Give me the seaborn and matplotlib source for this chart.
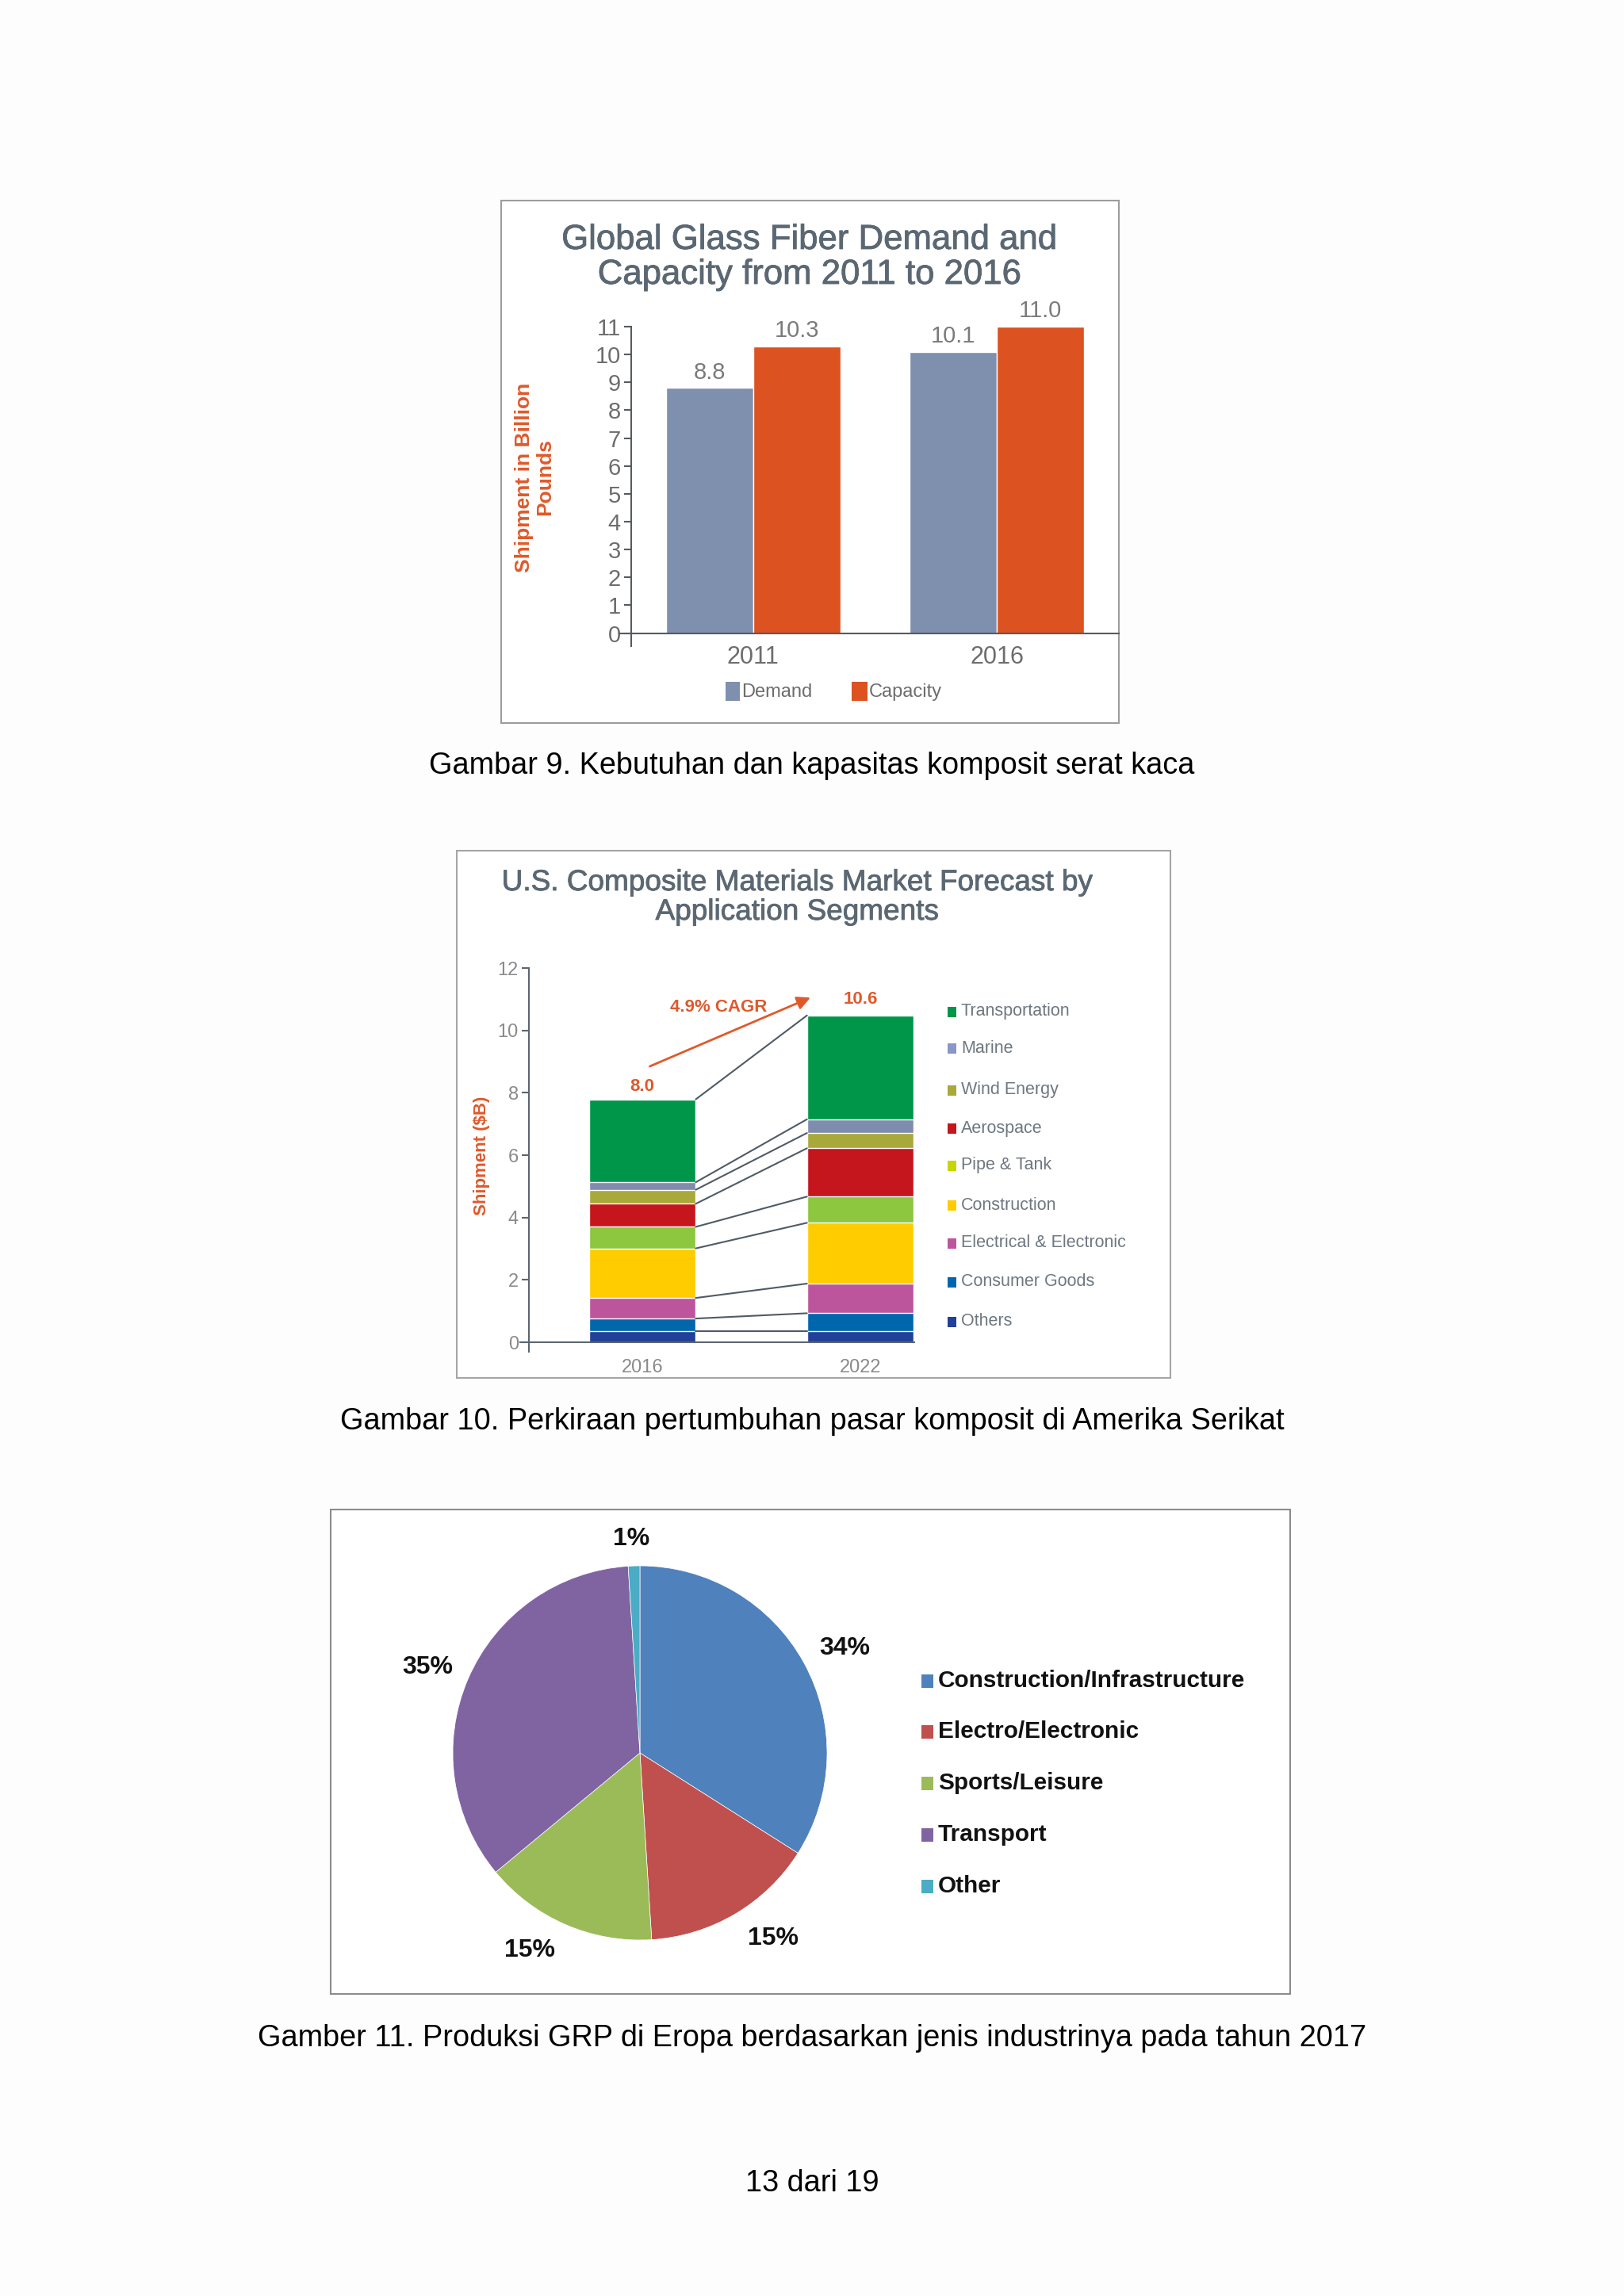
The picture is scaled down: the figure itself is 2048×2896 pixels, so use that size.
import numpy as np
import pandas as pd
import seaborn as sns
import matplotlib.pyplot as plt
import matplotlib.patheffects as pe
from matplotlib.patches import Rectangle

# Data grafiek 1 (glasvezel vraag en capaciteit)
jaren_glas = ['2011', '2016']
demand = [8.8, 10.1]
capacity = [10.3, 11.0]

# Data grafiek 2 (segmenten van onder naar boven, in $B)
jaren_us = ['2016', '2022']
segmenten = ['Others', 'Consumer Goods', 'Electrical & Electronic', 'Construction',
             'Pipe & Tank', 'Aerospace', 'Wind Energy', 'Marine', 'Transportation']
waarden_2016 = [0.35, 0.41, 0.66, 1.59, 0.69, 0.74, 0.45, 0.24, 2.66]
waarden_2022 = [0.35, 0.58, 0.95, 1.95, 0.84, 1.55, 0.49, 0.44, 3.33]
totaal_labels = ['8.0', '10.6']

# Data grafiek 3 (GRP Europa 2017, procent)
sectoren = ['Construction/Infrastructure', 'Electro/Electronic', 'Sports/Leisure', 'Transport', 'Other']
aandeel = [34, 15, 15, 35, 1]

# Kleuren
kleuren2 = ['#22409a', '#0067ad', '#bd559c', '#ffcc00', '#8dc63f',
            '#c4161c', '#a9a83a', '#7f8cad', '#00964a']
legenda2_kleuren = ['#22409a', '#0067ad', '#bd559c', '#ffcc00', '#c5d600',
                    '#c4161c', '#a9a83a', '#8a96c8', '#00964a']
kleuren3 = ['#4f81bd', '#c0504d', '#9bbb59', '#8064a2', '#4bacc6']
oranje = '#e0592a'

sns.set_theme(style='white')
plt.rcParams['font.family'] = ['Liberation Sans', 'DejaVu Sans']

W, H = 2048, 2896
fig = plt.figure(figsize=(W / 100, H / 100), dpi=100)
fig.patch.set_facecolor('#fdfdfd')


def fx(x):
    return x / W


def fy(y):
    return 1 - y / H


def ax_px(x0, y0, x1, y1):
    ax = fig.add_axes([x0 / W, 1 - y1 / H, (x1 - x0) / W, (y1 - y0) / H])
    ax.patch.set_alpha(0)
    return ax


def kader(x0, y0, x1, y1, kleur):
    fig.add_artist(Rectangle((x0 / W, 1 - y1 / H), (x1 - x0) / W, (y1 - y0) / H,
                             transform=fig.transFigure, fc='white', ec=kleur, lw=1.5, zorder=-5))


def blokje(x0, y0, x1, y1, kleur):
    fig.add_artist(Rectangle((x0 / W, 1 - y1 / H), (x1 - x0) / W, (y1 - y0) / H,
                             transform=fig.transFigure, fc=kleur, ec='none', zorder=5))


titelkleur = '#5b6873'
dikker = [pe.withStroke(linewidth=0.6, foreground=titelkleur)]

# ---------------- Grafiek 1 ----------------
kader(632, 253, 1411, 912, '#9d9d9d')
fig.text(fx(1021), fy(314), 'Global Glass Fiber Demand and', ha='center', va='baseline',
         fontsize=31.5, color=titelkleur, path_effects=dikker)
fig.text(fx(1021), fy(358), 'Capacity from 2011 to 2016', ha='center', va='baseline',
         fontsize=31.5, color=titelkleur, path_effects=dikker)

ax1 = ax_px(796, 412, 1411, 798.5)
df1 = pd.DataFrame({'jaar': jaren_glas * 2,
                    'reeks': ['Demand'] * 2 + ['Capacity'] * 2,
                    'waarde': demand + capacity})
sns.barplot(data=df1, x='jaar', y='waarde', hue='reeks', palette=['#7f8fae', '#dc5220'],
            width=0.716, gap=0, saturation=1, legend=False, ax=ax1)
for c in ax1.containers:
    ax1.bar_label(c, fmt='%.1f', padding=4, fontsize=21, color='#7b7b7b')
ax1.set_xlim(-0.5, 1.5)
ax1.set_ylim(0, 11)
ax1.set_yticks(range(12))
ax1.set_xlabel('')
ax1.set_ylabel('')
for s in ['top', 'right']:
    ax1.spines[s].set_visible(False)
for s in ['left', 'bottom']:
    ax1.spines[s].set_color('#555b60')
    ax1.spines[s].set_linewidth(1.5)
ax1.spines['left'].set_bounds(-0.47, 11)
ax1.spines['bottom'].set_bounds(-0.55, 1.5)
ax1.tick_params(axis='y', direction='out', length=6.5, width=1.5, color='#555b60',
                labelsize=21, labelcolor='#6d6d6d', pad=3, left=True)
ax1.tick_params(axis='x', length=0, labelsize=22, labelcolor='#6d6d6d', pad=11)
fig.text(fx(674), fy(602), 'Shipment in Billion\nPounds', rotation=90, ha='center', va='center',
         multialignment='center', fontsize=19, fontweight='bold', color=oranje, linespacing=1.15)

blokje(915, 860, 933, 884, '#7f8fae')
fig.text(fx(935), fy(873), 'Demand', ha='left', va='center', fontsize=17, color='#6d6d6d')
blokje(1074, 860, 1094, 884, '#dc5220')
fig.text(fx(1096), fy(873), 'Capacity', ha='left', va='center', fontsize=17, color='#6d6d6d')

fig.text(fx(1024), fy(966), 'Gambar 9. Kebutuhan dan kapasitas komposit serat kaca',
         ha='center', va='center', fontsize=27.3, color='black')

# ---------------- Grafiek 2 ----------------
kader(576, 1073, 1476, 1738, '#a5a5a5')
fig.text(fx(1005), fy(1123), 'U.S. Composite Materials Market Forecast by', ha='center',
         va='baseline', fontsize=26.6, color=titelkleur, path_effects=dikker)
fig.text(fx(1005), fy(1160), 'Application Segments', ha='center', va='baseline',
         fontsize=26.6, color=titelkleur, path_effects=dikker)

ax2 = ax_px(667, 1221, 1153, 1693)
cum16 = np.cumsum(waarden_2016)
cum22 = np.cumsum(waarden_2022)
# Gestapeld: eerst de hoogste cumulatieve waarde, dan steeds lager erover heen
for i in reversed(range(len(segmenten))):
    df2 = pd.DataFrame({'jaar': jaren_us, 'top': [cum16[i], cum22[i]]})
    sns.barplot(data=df2, x='jaar', y='top', color=kleuren2[i], width=0.49,
                saturation=1, ax=ax2)
for i in range(len(segmenten)):
    ax2.plot([0.245, 0.755], [cum16[i], cum22[i]], color='#4f5b66', lw=1.5)
ax2.set_xlim(-0.52, 1.247)
ax2.set_ylim(0, 12)
ax2.set_yticks(range(0, 13, 2))
ax2.set_xlabel('')
ax2.set_ylabel('')
for s in ['top', 'right']:
    ax2.spines[s].set_visible(False)
for s in ['left', 'bottom']:
    ax2.spines[s].set_color('#5b6670')
    ax2.spines[s].set_linewidth(1.5)
ax2.spines['left'].set_bounds(-0.3, 12)
ax2.spines['bottom'].set_bounds(-0.56, 1.247)
ax2.tick_params(axis='y', direction='out', length=6.5, width=1.5, color='#5b6670',
                labelsize=17, labelcolor='#8a8a8a', pad=3, left=True)
ax2.tick_params(axis='x', length=0, labelsize=17, labelcolor='#8a8a8a', pad=15)

ax2.annotate('', xy=(0.78, 11.08), xytext=(0.025, 8.82),
             arrowprops=dict(arrowstyle='-|>', color=oranje, lw=2, mutation_scale=25))
ax2.text(0.35, 10.74, '4.9% CAGR', ha='center', va='center', fontsize=16,
         fontweight='bold', color=oranje)
ax2.text(0, 8.2, totaal_labels[0], ha='center', va='center', fontsize=16,
         fontweight='bold', color=oranje)
ax2.text(1, 11.0, totaal_labels[1], ha='center', va='center', fontsize=16,
         fontweight='bold', color=oranje)
fig.text(fx(607), fy(1458), 'Shipment ($B)', rotation=90, ha='center', va='center',
         fontsize=16, fontweight='bold', color=oranje)

legenda_y = [1667, 1617, 1568, 1520, 1470, 1423, 1375, 1322, 1276]
for naam, kleur, yy in zip(segmenten, legenda2_kleuren, legenda_y):
    blokje(1195, yy - 6, 1206, yy + 7, kleur)
    fig.text(fx(1212), fy(yy), naam, ha='left', va='center', fontsize=15.5, color='#6e7780')

fig.text(fx(1024), fy(1793), 'Gambar 10. Perkiraan pertumbuhan pasar komposit di Amerika Serikat',
         ha='center', va='center', fontsize=27.3, color='black')

# ---------------- Grafiek 3 ----------------
kader(417, 1904, 1627, 2515, '#8c8c8c')
ax3 = ax_px(807 - 236, 2211 - 236, 807 + 236, 2211 + 236)
wiggen, labels, pct = ax3.pie(aandeel, colors=kleuren3, startangle=90, counterclock=False,
                              wedgeprops=dict(edgecolor='white', linewidth=0.5),
                              autopct='%d%%', pctdistance=1.21,
                              textprops=dict(fontsize=23, fontweight='bold', color='#111111'))
# Labelposities zoals in Excel (buiten de taart)
label_pos = [(1.095, 0.558), (0.712, -0.991), (-0.587, -1.054), (-1.135, 0.456), (-0.047, 1.145)]
for t, p in zip(pct, label_pos):
    t.set_position(p)
ax3.set_xlim(-1, 1)
ax3.set_ylim(-1, 1)
ax3.set_aspect('equal')

legenda3_y = [2119.5, 2184, 2249.4, 2313.8, 2379.4]
for naam, kleur, yy in zip(sectoren, kleuren3, legenda3_y):
    blokje(1162, yy - 8, 1177, yy + 9, kleur)
    fig.text(fx(1183), fy(yy), naam, ha='left', va='center', fontsize=21.4,
             fontweight='bold', color='#111111')

fig.text(fx(1024), fy(2571),
         'Gamber 11. Produksi GRP di Eropa berdasarkan jenis industrinya pada tahun 2017',
         ha='center', va='center', fontsize=27.3, color='black')

fig.text(fx(1024), fy(2754), '13 dari 19', ha='center', va='center', fontsize=27.3, color='black')

plt.savefig('out.png', dpi=100, facecolor=fig.get_facecolor())
